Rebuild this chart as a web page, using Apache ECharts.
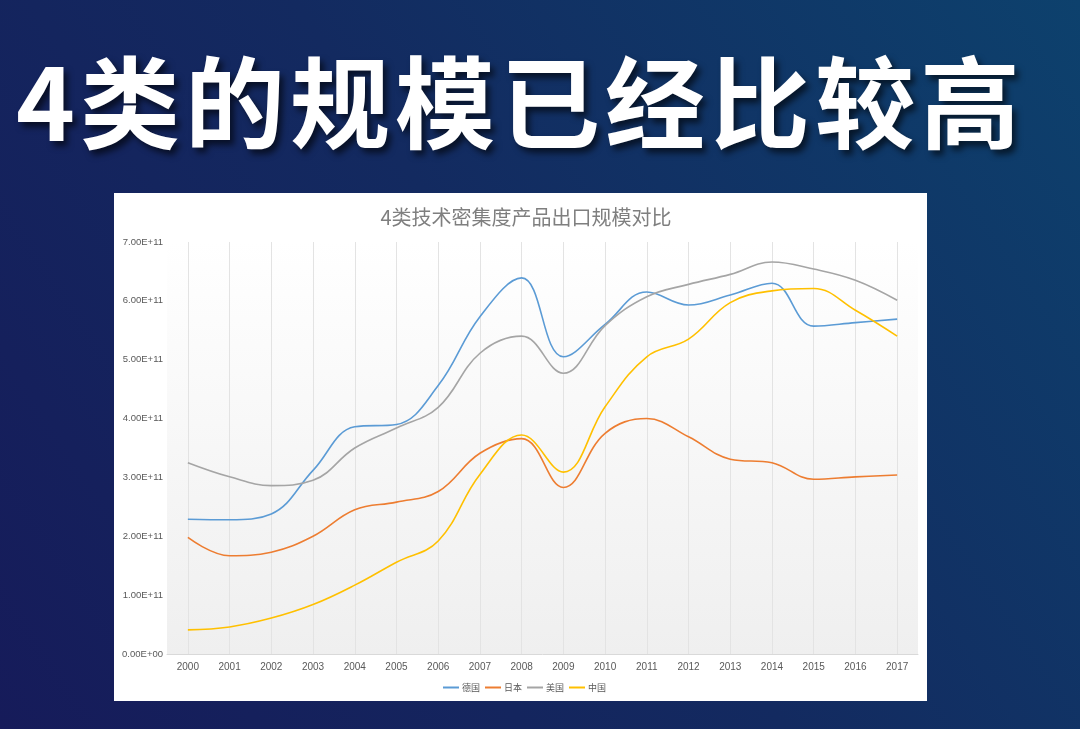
<!DOCTYPE html>
<html>
<head>
<meta charset="utf-8">
<script src="https://cdn.jsdelivr.net/npm/echarts@6/dist/echarts.min.js"></script>
<style>
html,body{margin:0;padding:0;width:1080px;height:729px;overflow:hidden;}
#c{width:1080px;height:729px;position:absolute;left:0;top:0;}
#h{position:absolute;left:16px;top:33px;font-family:'Noto Sans CJK SC';font-weight:bold;font-size:100px;line-height:130px;
  letter-spacing:5px;color:#fff;white-space:nowrap;text-shadow:4px 5px 6px rgba(0,0,0,0.6);z-index:2;}
</style>
</head>
<body>
<div id="c"></div>
<div id="h"></div>
<script>
const headline = '4类的规模已经比较高';
const chartTitle = '4类技术密集度产品出口规模对比';
const years = ['2000','2001','2002','2003','2004','2005','2006','2007','2008','2009','2010','2011','2012','2013','2014','2015','2016','2017'];
const seriesNames = ['德国','日本','美国','中国'];
const germany = [2.29e11,2.28e11,2.38e11,3.12e11,3.86e11,3.90e11,4.56e11,5.73e11,6.39e11,5.05e11,5.60e11,6.15e11,5.93e11,6.10e11,6.30e11,5.57e11,5.63e11,5.69e11];
const japan   = [1.98e11,1.67e11,1.73e11,2.00e11,2.45e11,2.58e11,2.76e11,3.41e11,3.66e11,2.83e11,3.75e11,4.00e11,3.69e11,3.31e11,3.25e11,2.97e11,3.01e11,3.04e11];
const usa     = [3.25e11,3.01e11,2.86e11,2.95e11,3.50e11,3.84e11,4.19e11,5.11e11,5.40e11,4.77e11,5.58e11,6.07e11,6.28e11,6.45e11,6.66e11,6.54e11,6.35e11,6.01e11];
const china   = [0.41e11,0.46e11,0.61e11,0.84e11,1.17e11,1.56e11,1.92e11,3.05e11,3.72e11,3.09e11,4.20e11,5.05e11,5.35e11,5.97e11,6.17e11,6.21e11,5.84e11,5.40e11];
const colors = ['#5b9bd5','#ed7d31','#a5a5a5','#ffc000'];

document.getElementById('h').textContent = headline;
const chart = echarts.init(document.getElementById('c'));
const dataSets = [germany, japan, usa, china];
chart.setOption({
  backgroundColor: new echarts.graphic.LinearGradient(0, 1, 1, 0, [
    {offset: 0, color: '#161b5a'},
    {offset: 0.5, color: '#132a60'},
    {offset: 1, color: '#0d416d'}
  ]),
  graphic: [{
    type: 'rect', z: -1, silent: true,
    shape: {x: 114, y: 193, width: 813, height: 508},
    style: {fill: '#ffffff'}
  }],
  title: [{
    text: chartTitle,
    left: 521, textAlign: 'center', top: 202,
    textStyle: {color: '#7f7f7f', fontSize: 20, fontWeight: 'normal', fontFamily: 'Noto Sans CJK SC'}
  }],
  legend: {
    data: seriesNames,
    left: 438, top: 678,
    itemWidth: 16, itemHeight: 2, itemGap: 5,
    icon: 'rect',
    textStyle: {color: '#595959', fontSize: 9, fontFamily: 'Noto Sans CJK SC', padding: [0,0,0,-2]}
  },
  grid: {
    left: 167, right: 1080 - 918, top: 242, bottom: 729 - 654,
    show: true, borderWidth: 0,
    backgroundColor: new echarts.graphic.LinearGradient(0, 0, 0, 1, [
      {offset: 0, color: '#ffffff'},
      {offset: 1, color: '#efefef'}
    ])
  },
  xAxis: {
    type: 'category', data: years, boundaryGap: true,
    axisLine: {show: true, lineStyle: {color: '#d9d9d9'}},
    axisTick: {show: false},
    axisLabel: {color: '#595959', fontSize: 10, margin: 8, fontFamily: 'Liberation Sans'},
    splitLine: {show: true, alignWithLabel: true, lineStyle: {color: '#e3e3e3', width: 1}}
  },
  yAxis: {
    type: 'value', min: 0, max: 7e11, interval: 1e11,
    axisLine: {show: false}, axisTick: {show: false},
    splitLine: {show: false},
    axisLabel: {
      color: '#595959', fontSize: 9.5, margin: 4, fontFamily: 'Liberation Sans',
      formatter: v => {
        if (v === 0) return '0.00E+00';
        const e = Math.floor(Math.log10(v));
        return (v / Math.pow(10, e)).toFixed(2) + 'E+' + e;
      }
    }
  },
  series: seriesNames.map((n, i) => ({
    name: n, type: 'line', data: dataSets[i], smooth: 0.4,
    showSymbol: false, symbol: 'none',
    lineStyle: {color: colors[i], width: 1.6},
    itemStyle: {color: colors[i]}
  }))
});
</script>
</body>
</html>
